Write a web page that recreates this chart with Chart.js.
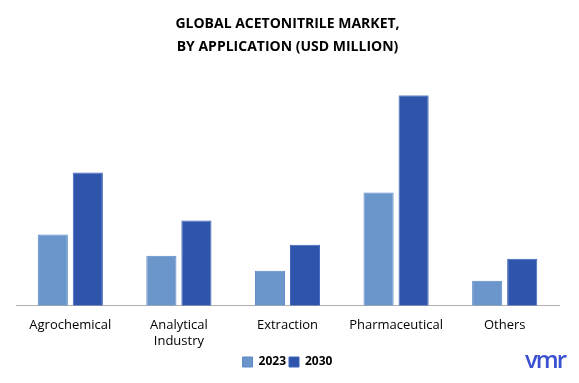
<!DOCTYPE html>
<html><head><meta charset="utf-8">
<script src="https://cdn.jsdelivr.net/npm/chart.js@4"></script>
<style>
html,body{margin:0;padding:0;background:#fff;}
#wrap{position:relative;width:579px;height:383px;}
#logo{position:absolute;left:525px;top:347px;font-family:"Open Sans",sans-serif;font-weight:600;font-size:24px;color:#3b50d0;letter-spacing:-2px;line-height:24px;}
</style></head>
<body><div id="wrap"><canvas id="c" width="579" height="383"></canvas><div id="logo">vmr</div></div>
<script>
const categories = ["Agrochemical", ["Analytical", "Industry"], "Extraction", "Pharmaceutical", "Others"];
const seriesNames = ["2023", "2030"];
const values2023 = [71, 50, 35, 113, 25];
const values2030 = [133, 85, 61, 210, 47];
const titleLines = ["GLOBAL ACETONITRILE MARKET,", "BY APPLICATION (USD MILLION)"];

new Chart(document.getElementById('c'), {
  type: 'bar',
  data: {
    labels: categories,
    datasets: [
      {label: seriesNames[0], data: values2023, backgroundColor: '#6a96cb', borderColor: '#5a88c6', borderWidth: 1},
      {label: seriesNames[1], data: values2030, backgroundColor: '#2e55ab', borderColor: '#3c64b8', borderWidth: 1}
    ]
  },
  options: {
    responsive: false,
    animation: false,
    devicePixelRatio: 1,
    datasets: {bar: {categoryPercentage: 0.645, barPercentage: 0.86}},
    layout: {padding: {left: 16, right: 20, top: 0, bottom: 5}},
    plugins: {
      title: {display: true, text: titleLines, color: '#000', font: {family: 'Open Sans', weight: 'bold', size: 14, lineHeight: 1.65}, padding: {top: 12, bottom: 37}},
      legend: {position: 'bottom', labels: {boxWidth: 10, boxHeight: 10, color: '#000', font: {family: 'Open Sans', size: 12, weight: 'bold'}, padding: 3}},
      tooltip: {enabled: false}
    },
    scales: {
      x: {grid: {display: false}, border: {display: true, color: '#b0b0b0', width: 1},
          ticks: {color: '#000', font: {family: 'Open Sans', size: 13}, maxRotation: 0, padding: 4}},
      y: {display: false, min: 0, max: 210}
    }
  }
});
</script></body></html>
